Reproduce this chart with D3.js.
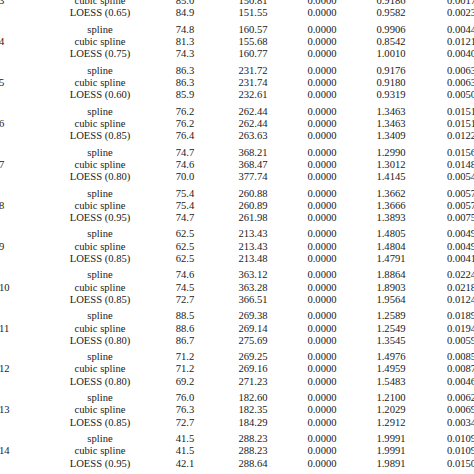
<!DOCTYPE html>
<html><head><meta charset="utf-8">
<script src="https://cdn.jsdelivr.net/npm/d3@7"></script>
<style>body{margin:0;background:#fff}svg{display:block}</style></head>
<body><script>
const groups = [3,4,5,6,7,8,9,10,11,12,13,14];
const methods = ["spline","cubic spline","LOESS"];
const spans = ["0.65","0.75","0.60","0.85","0.80","0.95","0.85","0.85","0.80","0.80","0.85","0.95"];
const col1 = [[85.2,85.0,84.9],[74.8,81.3,74.3],[86.3,86.3,85.9],[76.2,76.2,76.4],[74.7,74.6,70.0],[75.4,75.4,74.7],[62.5,62.5,62.5],[74.6,74.5,72.7],[88.5,88.6,86.7],[71.2,71.2,69.2],[76.0,76.3,72.7],[41.5,41.5,42.1]];
const col2 = [[150.64,150.81,151.55],[160.57,155.68,160.77],[231.72,231.74,232.61],[262.44,262.44,263.63],[368.21,368.47,377.74],[260.88,260.89,261.98],[213.43,213.43,213.48],[363.12,363.28,366.51],[269.38,269.14,275.69],[269.25,269.16,271.23],[182.60,182.35,184.29],[288.23,288.23,288.64]];
const col3 = groups.map(()=>[0,0,0]);
const col4 = [[0.9176,0.9186,0.9582],[0.9906,0.8542,1.0010],[0.9176,0.9180,0.9319],[1.3463,1.3463,1.3409],[1.2990,1.3012,1.4145],[1.3662,1.3666,1.3893],[1.4805,1.4804,1.4791],[1.8864,1.8903,1.9564],[1.2589,1.2549,1.3545],[1.4976,1.4959,1.5483],[1.2100,1.2029,1.2912],[1.9991,1.9991,1.9891]];
const col5 = [[0.0017,0.0017,0.0023],[0.0044,0.0121,0.0040],[0.0063,0.0063,0.0050],[0.0151,0.0151,0.0122],[0.0156,0.0148,0.0054],[0.0057,0.0057,0.0075],[0.0049,0.0049,0.0041],[0.0224,0.0218,0.0124],[0.0189,0.0194,0.0059],[0.0085,0.0087,0.0046],[0.0062,0.0069,0.0034],[0.0109,0.0109,0.0150]];

const W=474,H=474;
const svg=d3.select("body").append("svg").attr("width",W).attr("height",H);
const gy=d3.scaleLinear().domain([4,14]).range([29,438.3]);
const ry=d3.scaleLinear().domain([0,2]).range([0,24.4]);
const cx=d3.scaleOrdinal().domain(["m","c1","c2","c3","c4","c5"]).range([100,185,253,322,391,447]);
const font="'Liberation Serif','DejaVu Serif',serif";
const rows=[];
groups.forEach((g,i)=>{
  methods.forEach((m,j)=>{
    const y=gy(g)+ry(j);
    const label = m==="LOESS" ? `LOESS (${spans[i]})` : m;
    rows.push({y,cells:[["m",label],["c1",col1[i][j].toFixed(1)],["c2",col2[i][j].toFixed(2)],["c3",col3[i][j].toFixed(4)],["c4",col4[i][j].toFixed(4)],["c5",col5[i][j].toFixed(4)]]});
  });
  rows.push({y:gy(g)+ry(1),cells:[["g",String(g)]]});
});
rows.forEach(r=>{
  r.cells.forEach(([k,t])=>{
    svg.append("text").attr("x",k==="g"?-1:cx(k)).attr("y",r.y+3.8)
      .attr("text-anchor",(k==="g"||k==="c5")?"start":"middle")
      .attr("font-family",font).attr("font-size",10.6).attr("fill","#1a1a1a").text(t);
  });
});
</script></body></html>
